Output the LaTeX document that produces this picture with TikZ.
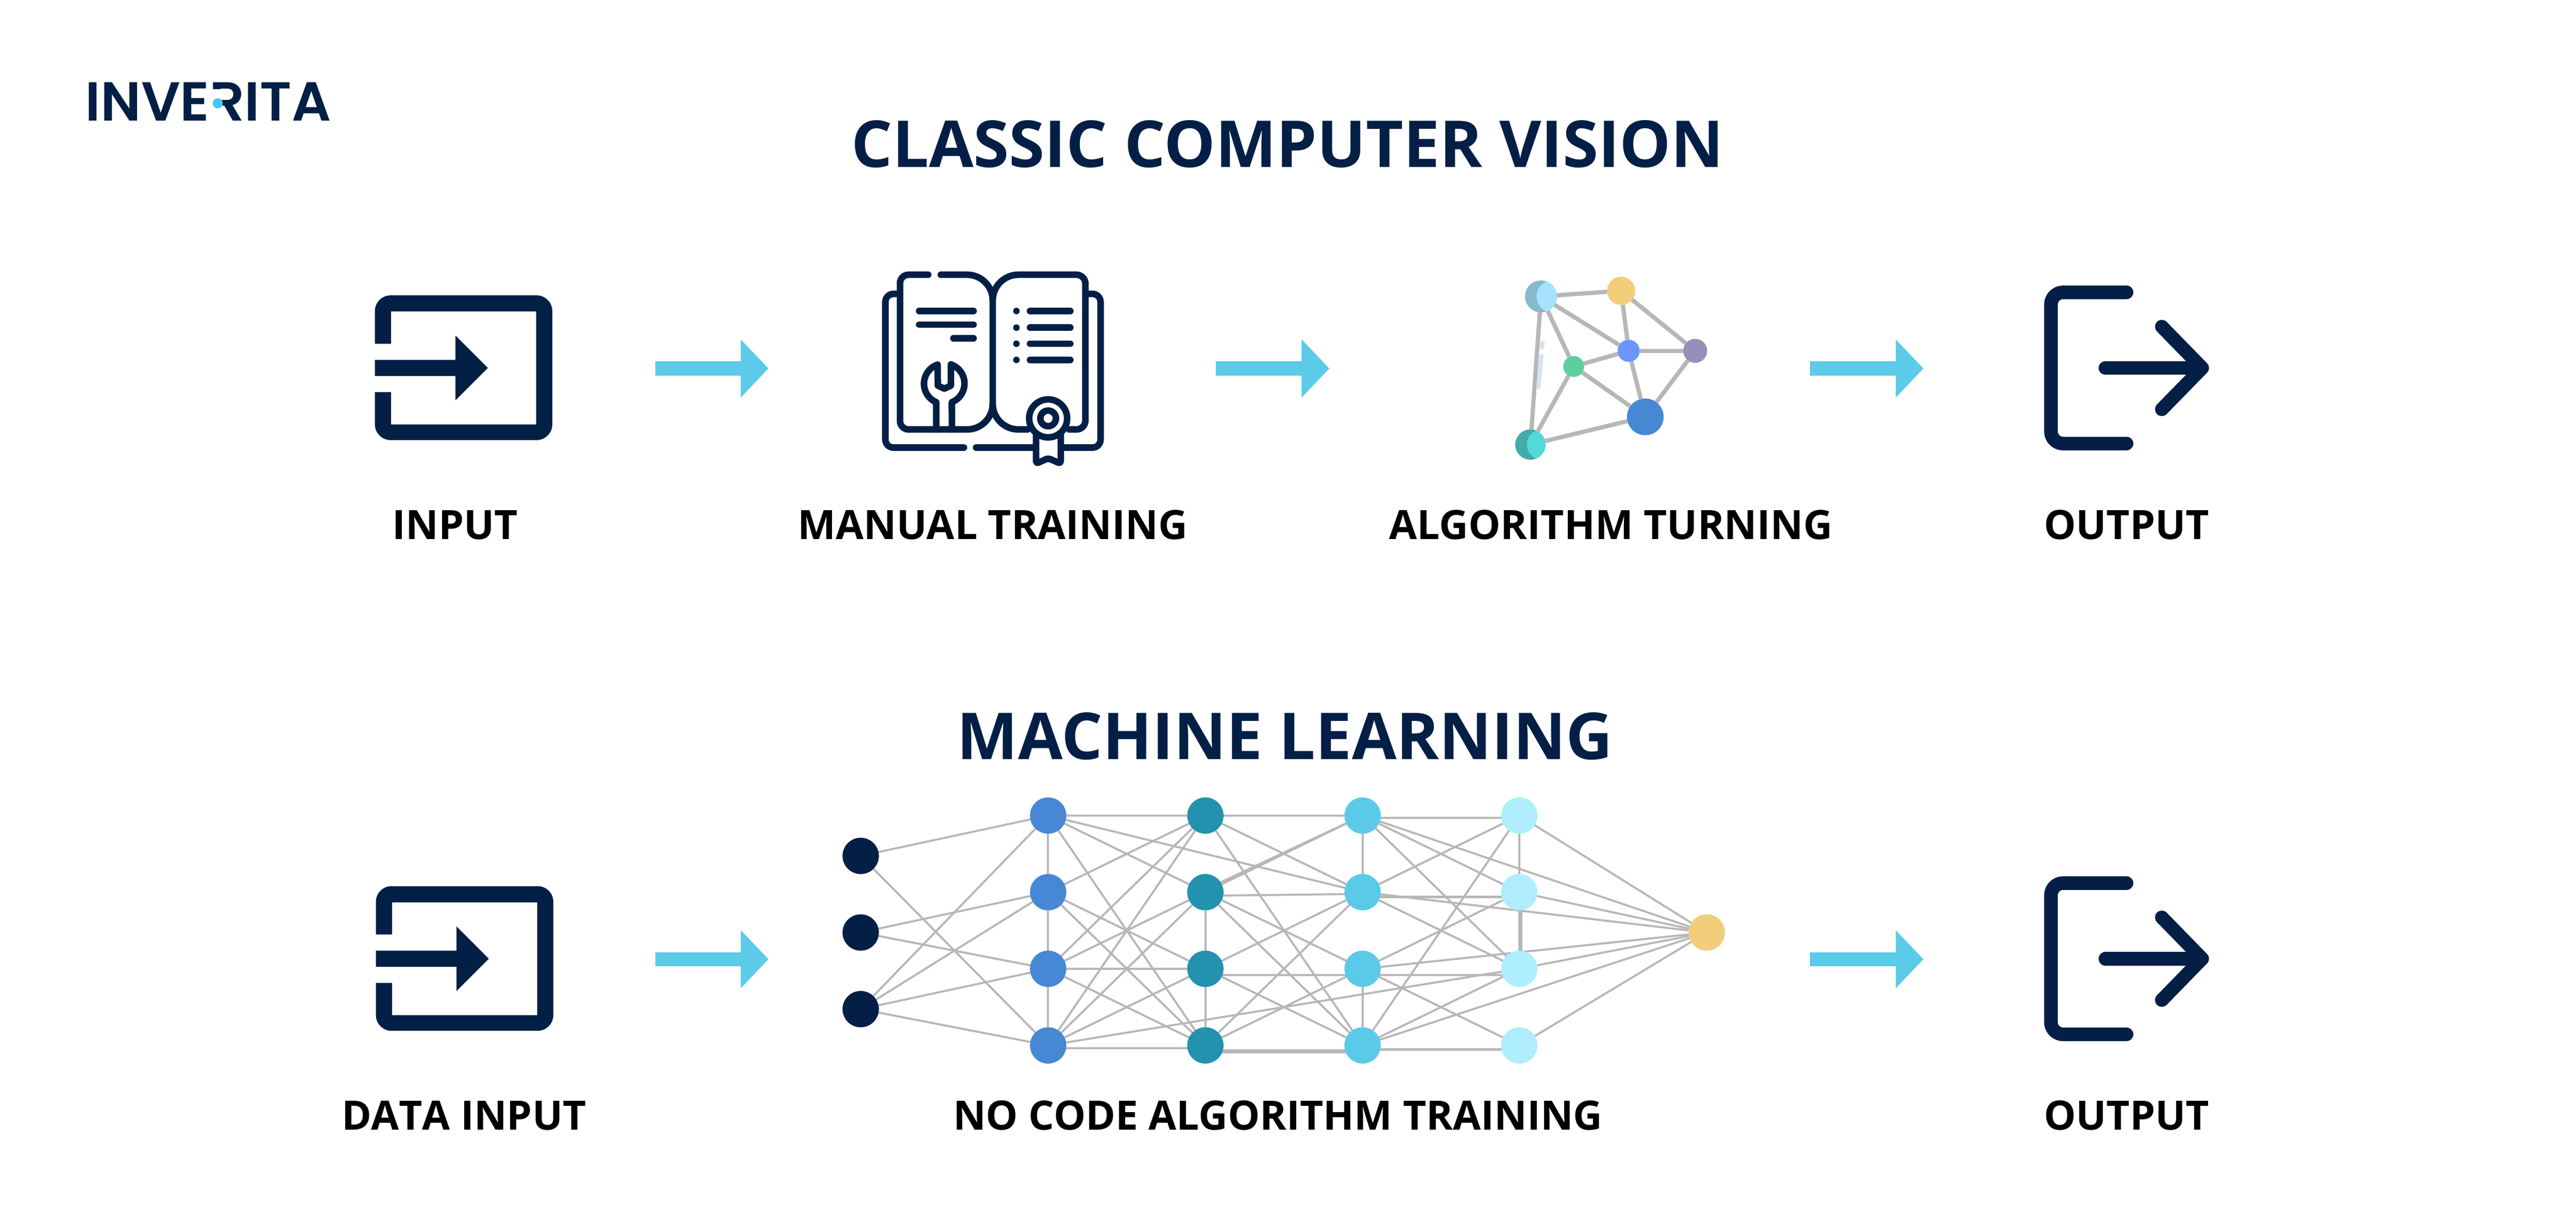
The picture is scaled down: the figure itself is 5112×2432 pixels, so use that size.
\documentclass[tikz,border=0pt]{standalone}
\usepackage{fontspec}
\usetikzlibrary{arrows.meta,backgrounds}
\setmainfont{Open Sans}
\IfFontExistsTF{Poppins SemiBold}{\newfontfamily\logofont{Poppins SemiBold}}{\newfontfamily\logofont{Poppins}}
\definecolor{navy}{HTML}{041F45}
\definecolor{skyarrow}{HTML}{5BCBE9}
\definecolor{logodot}{HTML}{47C5EE}
\definecolor{netgray}{HTML}{B7B7B7}
\definecolor{glintblue}{HTML}{D5E2F5}
\definecolor{netA}{HTML}{4688D3}
\definecolor{netB}{HTML}{2292AF}
\definecolor{netC}{HTML}{5BCAE9}
\definecolor{netD}{HTML}{AEEEFF}
\definecolor{netE}{HTML}{F2CD7C}
\tikzset{
	titletext/.style={anchor=base,text=navy,font=\fontsize{36.5}{40}\selectfont\bfseries},
	labeltext/.style={anchor=base,text=black,font=\fontsize{22.8}{26}\selectfont\bfseries},
	flowarrow/.style={-{Triangle[length=15.65pt,width=31.87pt]},line width=7.97pt,color=skyarrow},
	bookline/.style={line width=3.7pt,color=navy,line cap=round,line join=round},
	graphline/.style={line width=2.4pt,color=netgray},
	graphnode/.style={circle,inner sep=0pt,outer sep=0pt},
	glint/.style={line width=2.4pt,color=glintblue,line cap=round},
	netline/.style={line width=1.15pt,color=netgray},
	netthick/.style={line width=2.1pt,color=netgray},
	netnode/.style={circle,inner sep=0pt,outer sep=0pt,minimum size=20.5pt},
	inputicon/.pic={
		\fill [navy] (0,-48) -- (0,-113) arc (180:270:31) -- (321,-144) arc (270:360:31)
			-- (352,112) arc (0:90:31) -- (31,143) arc (90:180:31) -- (0,48) -- (32,48)
			-- (32,112) -- (320,112) -- (320,-112) -- (32,-112) -- (32,-48) -- cycle;
		\fill [navy] (0,-16) -- (160,-16) -- (160,-64) -- (224,0) -- (160,64) -- (160,16) -- (0,16) -- cycle;
	},
	outputicon/.pic={
		\draw [line width=7.68pt,color=navy,line cap=round,line join=round]
			(164,-150) -- (38,-150) arc (270:180:24) -- (14,126) arc (180:90:24) -- (164,150);
		\draw [line width=7.68pt,color=navy,line cap=round,line join=round] (122,0) -- (314,0);
		\draw [line width=7.68pt,color=navy,line cap=round,line join=round] (234,-82) -- (314,0) -- (234,82);
	},
}
\begin{document}
\begin{tikzpicture}[x=0.01cm,y=-0.01cm]
	\useasboundingbox (0,0) rectangle (5112,2432);

	% logo
	\node (logo) [anchor=base west,inner sep=0pt,text=navy,font=\fontsize{31}{34}\logofont] at (169,240) {INVERITA};
	\fill [white] (421,177) rectangle (441,242);
	\fill [logodot] (432,205) circle (10);

	% titles
	\node (title1) [titletext] at (2555,332) {CLASSIC COMPUTER VISION};
	\node (title2) [titletext] at (2550,1506) {MACHINE LEARNING};

	% labels
	\node (lab1) [labeltext] at (903,1070) {INPUT};
	\node (lab2) [labeltext] at (1970,1070) {MANUAL TRAINING};
	\node (lab3) [labeltext] at (3197,1070) {ALGORITHM TURNING};
	\node (lab4) [labeltext] at (4220,1070) {OUTPUT};
	\node (lab5) [labeltext] at (921,2242) {DA\kern0pt T\kern0pt A INPUT};
	\node (lab6) [labeltext] at (2536,2242) {NO CODE ALGORITHM TRAINING};
	\node (lab7) [labeltext] at (4220,2242) {OUTPUT};

	% icons at the two ends
	\pic at (744,730) {inputicon};
	\pic at (746,1902) {inputicon};
	\pic at (4056,730) {outputicon};
	\pic at (4056,1902) {outputicon};

	% arrows
	\coordinate (s1) at (1300,731);  \coordinate (t1) at (1525,731);
	\coordinate (s2) at (2413,731);  \coordinate (t2) at (2638,731);
	\coordinate (s3) at (3592,731);  \coordinate (t3) at (3817,731);
	\coordinate (s4) at (1300,1903); \coordinate (t4) at (1525,1903);
	\coordinate (s5) at (3592,1903); \coordinate (t5) at (3817,1903);
	\draw [flowarrow] (s1) -- (t1);
	\draw [flowarrow] (s2) -- (t2);
	\draw [flowarrow] (s3) -- (t3);
	\draw [flowarrow] (s4) -- (t4);
	\draw [flowarrow] (s5) -- (t5);

	% book
	\draw [bookline] (1786,583) -- (1773,583) arc (270:180:16) -- (1757,872) arc (180:90:16) -- (1913,888);
	\draw [bookline] (1937,888) -- (2055,888);
	\draw [bookline] (2106,888) -- (2168,888) arc (90:0:16) -- (2184,599) arc (0:-90:16) -- (2155,583);
	\draw [bookline] (1867,545) -- (1919,545) arc (-90:0:51) -- (1970,801) arc (0:90:51) -- (1803,852)
		arc (90:180:17) -- (1786,562) arc (180:270:17) -- (1842,545);
	\draw [bookline] (1970,596) arc (180:270:51) -- (2136,545) arc (270:360:18) -- (2154,834) arc (0:90:18) -- (2122,852);
	\draw [bookline] (2039,852) -- (2021,852) arc (90:180:51);
	\draw [bookline] (1824,617) -- (1932,617);
	\draw [bookline] (1824,644) -- (1932,644);
	\draw [bookline] (1892,671) -- (1932,671);
	\draw [bookline] (2044,617) -- (2124,617);
	\draw [bookline] (2044,650) -- (2124,650);
	\draw [bookline] (2044,682) -- (2124,682);
	\draw [bookline] (2044,714) -- (2124,714);
	\fill [navy] (2017,617) circle (6.5);
	\fill [navy] (2017,650) circle (6.5);
	\fill [navy] (2017,682) circle (6.5);
	\fill [navy] (2017,714) circle (6.5);
	\draw [bookline] (1858,852) -- (1858,798) arc (113:251:40) -- (1861,765) -- (1874,771) -- (1887,765)
		-- (1887,723) arc (-71:68:40) -- (1889,852);
	\draw [bookline] (2080,830) circle (37.7);
	\draw [bookline] (2080,830) circle (15.5);
	\draw [bookline,rounded corners=1.5pt] (2056,864) -- (2056,920) -- (2080,909) -- (2105,920) -- (2105,864);

	% small graph
	\node (N1) [graphnode,minimum size=18pt,fill={rgb,255:red,135;green,186;blue,205}] at (3058,588) {};
	\node (N2) [graphnode,minimum size=15.9pt,fill=netE] at (3217,577) {};
	\node (N3) [graphnode,minimum size=12.5pt,fill={rgb,255:red,108;green,150;blue,251}] at (3232,696) {};
	\node (N4) [graphnode,minimum size=13.5pt,fill={rgb,255:red,147;green,144;blue,185}] at (3364,696) {};
	\node (N5) [graphnode,minimum size=11.8pt,fill={rgb,255:red,93;green,205;blue,162}] at (3123,727) {};
	\node (N6) [graphnode,minimum size=20.7pt,fill=netA] at (3265,827) {};
	\node (N7) [graphnode,minimum size=17.1pt,fill={rgb,255:red,67;green,171;blue,169}] at (3037,882) {};
	\draw [graphline] (N1) -- (N2);
	\draw [graphline] (N1) -- (N3);
	\draw [graphline] (N1) -- (N5);
	\draw [graphline] (N1) -- (N7);
	\draw [graphline] (N2) -- (N3);
	\draw [graphline] (N2) -- (N4);
	\draw [graphline] (N3) -- (N4);
	\draw [graphline] (N3) -- (N5);
	\draw [graphline] (N3) -- (N6);
	\draw [graphline] (N4) -- (N6);
	\draw [graphline] (N5) -- (N6);
	\draw [graphline] (N5) -- (N7);
	\draw [graphline] (N6) -- (N7);
	\begin{scope}
		\clip (N1.center) circle (31.7);
		\fill [color={rgb,255:red,165;green,227;blue,253}] (3081,588) circle (31.7);
	\end{scope}
	\begin{scope}
		\clip (N7.center) circle (30);
		\fill [color={rgb,255:red,83;green,217;blue,218}] (3060,882) circle (30);
	\end{scope}
	\draw [glint] (3061,680) -- (3060,689);
	\draw [glint] (3059,706) -- (3053,768);

	% network
	\node (A1) [netnode,fill=navy] at (1708,1698) {};
	\node (A2) [netnode,fill=navy] at (1708,1850) {};
	\node (A3) [netnode,fill=navy] at (1708,2002) {};

	\node (B1) [netnode,fill=netA] at (2080,1618) {};
	\node (B2) [netnode,fill=netA] at (2080,1770) {};
	\node (B3) [netnode,fill=netA] at (2080,1922) {};
	\node (B4) [netnode,fill=netA] at (2080,2074) {};

	\node (C1) [netnode,fill=netB] at (2392,1618) {};
	\node (C2) [netnode,fill=netB] at (2392,1770) {};
	\node (C3) [netnode,fill=netB] at (2392,1922) {};
	\node (C4) [netnode,fill=netB] at (2392,2074) {};

	\node (D1) [netnode,fill=netC] at (2704,1618) {};
	\node (D2) [netnode,fill=netC] at (2704,1770) {};
	\node (D3) [netnode,fill=netC] at (2704,1922) {};
	\node (D4) [netnode,fill=netC] at (2704,2074) {};

	\node (E1) [netnode,fill=netD] at (3015,1618) {};
	\node (E2) [netnode,fill=netD] at (3015,1770) {};
	\node (E3) [netnode,fill=netD] at (3015,1922) {};
	\node (E4) [netnode,fill=netD] at (3015,2074) {};

	\node (F1) [netnode,fill=netE] at (3387,1850) {};

	\begin{pgfonlayer}{background}
		\draw [netline] (A1) -- (B1) (A1) -- (B4);
		\draw [netline] (A2) -- (B2) (A2) -- (B3);
		\draw [netline] (A3) -- (B1) (A3) -- (B2) (A3) -- (B3) (A3) -- (B4);
		\draw [netline] (B1) -- (B2) (B2) -- (B3) (B3) -- (B4);

		\draw [netline] (B1) -- (C1) (B1) -- (C2) (B1) -- (C4) (B1) -- (D2);
		\draw [netline] (B2) -- (C1) (B2) -- (C3) (B2) -- (C4);
		\draw [netline] (B3) -- (C1) (B3) -- (C2) (B3) -- (C3) (B3) -- (C4);
		\draw [netline] (B4) -- (C1) (B4) -- (C2) (B4) -- (C3) (B4) -- (E3);
		\draw [netline] ([yshift=-1.6pt]B4.center) -- ([yshift=-1.6pt]C4.center);
		\draw [netline] (C2) -- (C3) (C3) -- (C4);

		\draw [netline] (C1) -- (D1) (C1) -- (D2) (C1) -- (D4);
		\draw [netline] (C2) -- (D1) (C2) -- (D3) (C2) -- (D4);
		\draw [netline] ([yshift=1.5pt]C2.center) -- (D1);
		\draw [netline] ([yshift=-2pt]C2.center) -- ([yshift=-1pt]D2.center);
		\draw [netline] (C3) -- (D2) (C3) -- (D4);
		\draw [netline] ([yshift=-3.4pt]C3.center) -- ([yshift=-3.4pt]D3.center);
		\draw [netline] (C4) -- (D2) (C4) -- (D3);
		\draw [netthick] ([yshift=-3.3pt]C4.center) -- ([yshift=-3.3pt]D4.center);
		\draw [netline] (D1) -- (D2) (D3) -- (D4);

		\draw [netline] ([yshift=-1.4pt]D1.center) -- ([yshift=-1.4pt]E1.center);
		\draw [netline] (D1) -- (E2) (D1) -- (E3) (D1) -- (F1);
		\draw [netline] (D2) -- (E1) (D2) -- (E3) (D2) -- (F1);
		\draw [netthick,line width=1.4pt] ([yshift=-2.8pt]D2.center) -- ([yshift=-2.8pt]E2.center);
		\draw [netline] (D3) -- (E2) (D3) -- (E4) (D3) -- (F1);
		\draw [netline] ([yshift=-3.4pt]D3.center) -- ([yshift=-3.4pt]E3.center);
		\draw [netline] (D4) -- (E1) (D4) -- (E3) (D4) -- (F1);
		\draw [netline,line width=1.3pt] ([yshift=-2.3pt]D4.center) -- ([yshift=-2.3pt]E4.center);
		\draw [netline] (E1) -- (E2);
		\draw [netthick] ([xshift=0.6pt]E2.center) -- ([xshift=0.6pt]E3.center);
		\draw [netline] (E1) -- (F1) (E2) -- (F1) (E3) -- (F1) (E4) -- (F1);
	\end{pgfonlayer}
\end{tikzpicture}
\end{document}
